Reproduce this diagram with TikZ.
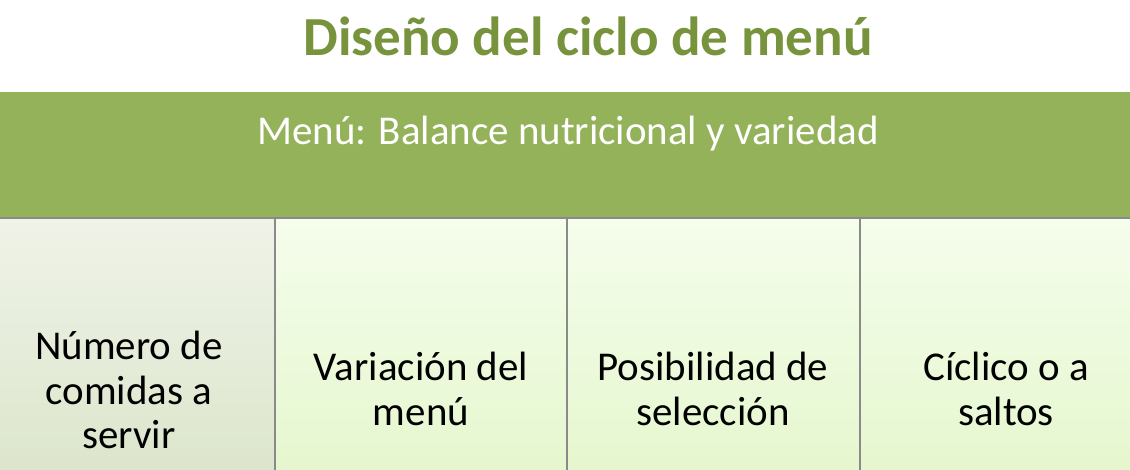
\documentclass[tikz,border=0pt]{standalone}
\usepackage{fontspec}
\setmainfont{Carlito}
\definecolor{titlegreen}{HTML}{77933C}
\definecolor{bandgreen}{HTML}{94B25A}
\definecolor{colAtop}{HTML}{EFF3E8}
\definecolor{colAbot}{HTML}{D6E1C2}
\definecolor{colBtop}{HTML}{F5FDEC}
\definecolor{colBbot}{HTML}{E0F5C4}
\definecolor{divgrey}{HTML}{8A8A8A}
\tikzset{
  colbox/.style={draw=divgrey, line width=0.9pt, top color=colBtop, bottom color=colBbot},
  firstbox/.style={draw=divgrey, line width=0.9pt, top color=colAtop, bottom color=colAbot},
  coltext/.style={align=center, font=\fontsize{30.7}{33.2}\selectfont, text=black},
}
\begin{document}
\begin{tikzpicture}[x=0.75pt,y=-0.75pt]
\useasboundingbox (0,0) rectangle (1130,469);
\fill[white] (0,0) rectangle (1130,469);
\begin{scope}
\clip (0,0) rectangle (1130,469);
\node[font=\fontsize{41.3}{45}\selectfont\bfseries, text=titlegreen] (title) at (588,36) {Diseño del ciclo de menú};
\fill[bandgreen] (-5,92) rectangle (1135,218);
\node[font=\fontsize{30.7}{33}\selectfont, text=white] (band) at (568,134) {Menú: Balance nutricional y variedad};
\draw[firstbox] (-17,218) rectangle (275,560);
\draw[colbox] (275,218) rectangle (567,560);
\draw[colbox] (567,218) rectangle (860,560);
\draw[colbox] (860,218) rectangle (1152,560);
\node[coltext] (c1) at (129,390) {Número de\\comidas a\\servir};
\node[coltext] (c2) at (421,389) {Variación del\\menú};
\node[coltext] (c3) at (713,389) {Posibilidad de\\selección};
\node[coltext] (c4) at (1006,389) {Cíclico o a\\saltos};
\end{scope}
\end{tikzpicture}
\end{document}
